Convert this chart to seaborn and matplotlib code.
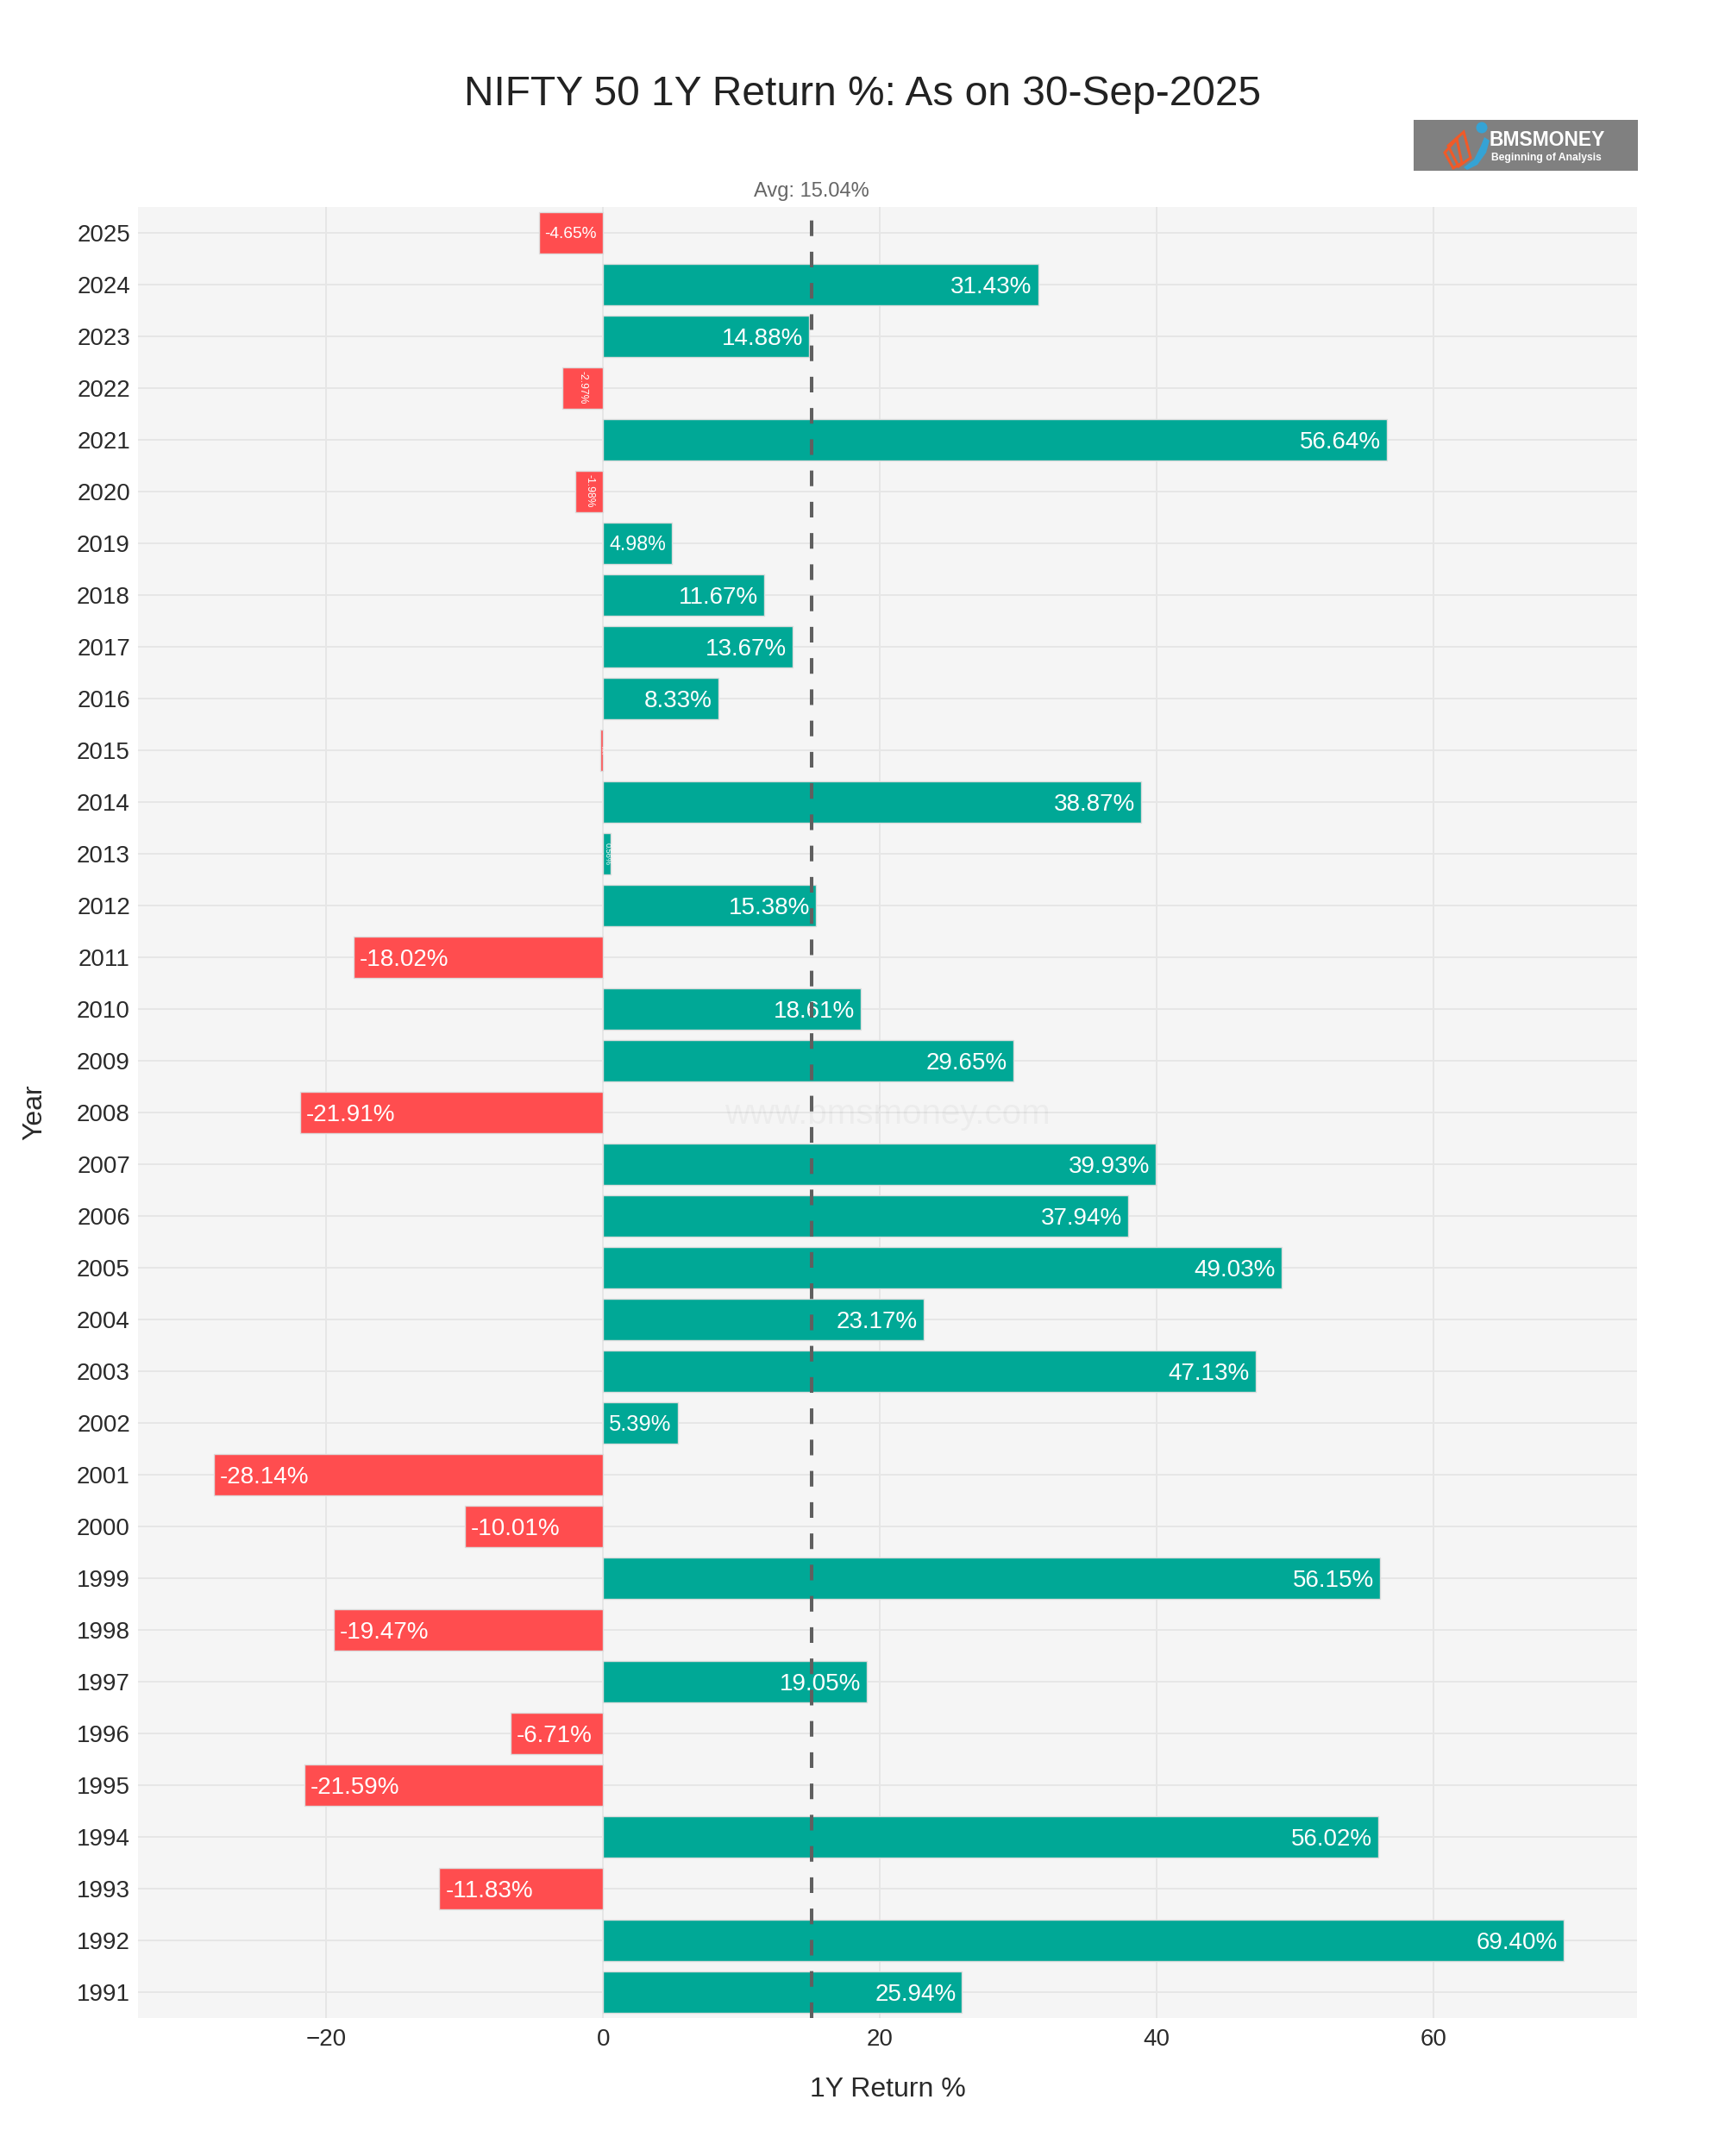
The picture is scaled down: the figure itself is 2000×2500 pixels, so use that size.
import numpy as np
import pandas as pd
import matplotlib
matplotlib.use("Agg")
import matplotlib.pyplot as plt
import seaborn as sns
from matplotlib import transforms
from matplotlib.patches import Rectangle, Circle, Polygon

# ---------------- data ----------------
years = [2025, 2024, 2023, 2022, 2021, 2020, 2019, 2018, 2017, 2016, 2015, 2014,
         2013, 2012, 2011, 2010, 2009, 2008, 2007, 2006, 2005, 2004, 2003, 2002,
         2001, 2000, 1999, 1998, 1997, 1996, 1995, 1994, 1993, 1992, 1991]
returns = [-4.65, 31.43, 14.88, -2.97, 56.64, -1.98, 4.98, 11.67, 13.67, 8.33, -0.20, 38.87,
           0.56, 15.38, -18.02, 18.61, 29.65, -21.91, 39.93, 37.94, 49.03, 23.17, 47.13, 5.39,
           -28.14, -10.01, 56.15, -19.47, 19.05, -6.71, -21.59, 56.02, -11.83, 69.40, 25.94]
x_ticks = [-20, 0, 20, 40, 60]
title_text = "NIFTY 50 1Y Return %: As on 30-Sep-2025"
x_label = "1Y Return %"
y_label = "Year"
watermark = "www.bmsmoney.com"
logo_title = "BMSMONEY"
logo_sub = "Beginning of Analysis"

GREEN = "#00a896"
RED = "#ff4d4f"
TXT = "#2a2a2a"

sns.set_theme(style="white")
plt.rcParams["font.family"] = ["Liberation Sans", "DejaVu Sans"]

W, H = 2000, 2500
fig = plt.figure(figsize=(20, 25), dpi=100)
fig.patch.set_facecolor("white")

L, R, T, B = 160, 1898, 239.6, 2339.6
ax = fig.add_axes([L / W, 1 - B / H, (R - L) / W, (B - T) / H])
ax.set_facecolor("#f5f5f5")

df = pd.DataFrame({"Year": [str(y) for y in years], "Return": returns})
df["Sign"] = np.where(df["Return"] >= 0, "pos", "neg")
order = [str(y) for y in years]

sns.barplot(data=df, x="Return", y="Year", hue="Sign", order=order,
            hue_order=["pos", "neg"], palette={"pos": GREEN, "neg": RED},
            dodge=False, width=0.8, orient="h", legend=False, saturation=1,
            edgecolor="#dcdcdc", linewidth=1.0, ax=ax, zorder=2)

ax.set_xlim(-33.6, 74.7)
ax.set_ylim(34.5, -0.5)
ax.set_xticks(x_ticks)
ax.set_xticklabels([f"\u2212{abs(t)}" if t < 0 else str(t) for t in x_ticks])
ax.grid(True, color="#e6e6e6", linewidth=1.4)
ax.set_axisbelow(True)
for s in ax.spines.values():
    s.set_visible(False)
ax.tick_params(axis="both", length=0, labelsize=20, colors=TXT)
ax.tick_params(axis="y", pad=6.5)
ax.tick_params(axis="x", pad=9)

ax.set_xlabel(x_label, fontsize=23, color=TXT)
ax.set_ylabel(y_label, fontsize=23, color=TXT)
ax.xaxis.set_label_coords(0.5, (B - 2423) / (B - T))
ax.xaxis.label.set_va("center")
ax.yaxis.set_label_coords((40 - L) / (R - L), 0.5)
ax.yaxis.label.set_va("center")

# watermark
ax.text(0.5, 0.5 - (1292 - (T + B) / 2) / (B - T), watermark, transform=ax.transAxes,
        fontsize=29, color="#000000", alpha=0.035, ha="center", va="center", zorder=1)

# average line
avg = float(np.mean(returns))
ax.axvline(avg, color="#5f5f5f", linewidth=2.9, dashes=(4.5, 4.5), zorder=6)
blend = transforms.blended_transform_factory(ax.transData, fig.transFigure)
ax.text(avg, 1 - 222 / H, f"Avg: {avg:.2f}%", transform=blend, fontsize=17,
        color="#666666", ha="center", va="center")

# title
fig.text(0.5, 1 - 109 / H, title_text, fontsize=34.5, color="#222222",
         ha="center", va="center")

# bar labels (inside end, shrink / rotate to fit like plotly)
fig.canvas.draw()
rend = fig.canvas.get_renderer()
px_per_unit = ax.transData.transform((1, 0))[0] - ax.transData.transform((0, 0))[0]
px_per_cat = abs(ax.transData.transform((0, 1))[1] - ax.transData.transform((0, 0))[1])
pad = 7.0
base_fs = 20
for p in ax.patches:
    if p.get_height() == 0:
        continue
    idx = int(round(p.get_y() + p.get_height() / 2))
    val = returns[idx]
    label = f"{val:.2f}%"
    w_px = abs(val) * px_per_unit
    h_px = p.get_height() * px_per_cat
    t = ax.text(0, idx, label, fontsize=base_fs, color="white", zorder=5)
    bb = t.get_window_extent(rend)
    tw, th = bb.width, bb.height
    aw = w_px - 2 * pad if w_px > 40 else w_px * 0.95
    ah = h_px - 2 * pad
    sh = min(1.0, aw / tw, ah / th)
    sr = min(1.0, aw / th, (h_px * 0.8) / tw)
    if sh < 1.0 and sr >= sh * 0.98:
        t.set_fontsize(base_fs * sr)
        t.set_rotation(-90)
        t.set_position((val / 2, idx))
        t.set_ha("center")
        t.set_va("center")
        t.set_rotation_mode("anchor")
    else:
        fs = base_fs * sh
        t.set_fontsize(fs)
        t.set_va("baseline")
        yb = idx + 0.36 * fs * 100 / 72 / px_per_cat
        if val >= 0:
            t.set_position((val - pad / px_per_unit, yb))
            t.set_ha("right")
        else:
            t.set_position((val + pad / px_per_unit, yb))
            t.set_ha("left")

# logo
lx0, ly0, lw, lh = 1639, 139, 260, 59
lax = fig.add_axes([lx0 / W, 1 - (ly0 + lh) / H, lw / W, lh / H])
lax.set_xlim(0, lw)
lax.set_ylim(lh, 0)
lax.axis("off")
lax.add_patch(Rectangle((0, 0), lw, lh, facecolor="#808080", edgecolor="none"))
lax.add_patch(Polygon([(40, 30), (58, 14), (66, 44), (52, 54)], closed=True,
                      facecolor="none", edgecolor="#f05a28", linewidth=2.2))
lax.add_patch(Polygon([(36, 38), (50, 22), (56, 50), (46, 56)], closed=True,
                      facecolor="none", edgecolor="#f05a28", linewidth=2.2))
lax.add_patch(Polygon([(58, 55), (70, 46), (78, 30), (82, 20), (88, 24), (84, 38),
                       (74, 52), (62, 58)], closed=True, facecolor="#35a3d5",
                      edgecolor="none"))
lax.add_patch(Circle((79, 9), 6.5, facecolor="#35a3d5", edgecolor="none"))
lax.text(88, 23, logo_title, fontsize=16.5, fontweight="bold", color="white",
         ha="left", va="center")
lax.text(90, 44, logo_sub, fontsize=8.7, fontweight="bold", color="white",
         ha="left", va="center")

fig.savefig("out.png", dpi=100, facecolor="white")
